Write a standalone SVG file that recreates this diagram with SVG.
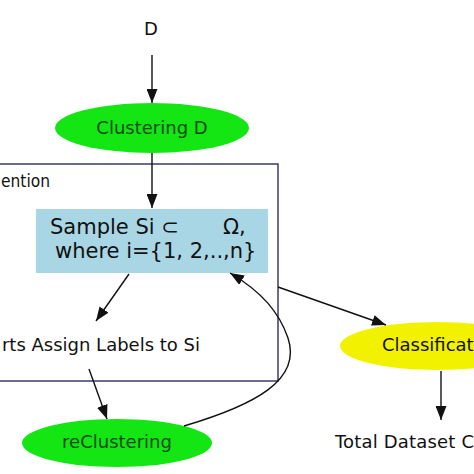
<svg xmlns="http://www.w3.org/2000/svg" width="474" height="474" viewBox="0 0 474 474">
<style>
text{font-family:"DejaVu Sans","Noto Sans",sans-serif;font-size:18px;fill:#111}
.big{font-size:21px}
.edge{fill:none;stroke:#111;stroke-width:1.4}
.green{fill:#14e614}
.gtext{fill:#0c4a0c}
</style>
<defs>
<marker id="ah" viewBox="0 0 14 11" refX="14" refY="5.5" markerWidth="14" markerHeight="11" markerUnits="userSpaceOnUse" orient="auto">
<path d="M0,0 L14,5.5 L0,11 Z" fill="#111"/>
</marker>
</defs>
<rect width="474" height="474" fill="#fff"/>
<g id="cluster">
<rect x="-20" y="164" width="298" height="217" fill="none" stroke="#3b3b6b" stroke-width="1.5"/>
<text x="1" y="187" textLength="49" lengthAdjust="spacingAndGlyphs">ention</text>
</g>
<g id="node-D"><text x="151" y="35" text-anchor="middle">D</text></g>
<g id="node-clustering">
<ellipse class="green" cx="152" cy="128" rx="97" ry="25"/>
<text class="gtext" x="152" y="134" text-anchor="middle">Clustering D</text>
</g>
<g id="node-sample">
<rect x="36" y="209" width="232" height="64" fill="#a9d6e4"/>
<text class="big" x="50" y="234">Sample Si ⊂</text>
<text class="big" x="223" y="234">Ω,</text>
<text class="big" x="55" y="258">where i={1, 2,..,n}</text>
</g>
<g id="node-experts"><text x="200" y="351" text-anchor="end">rts Assign Labels to Si</text></g>
<g id="node-reclustering">
<ellipse class="green" cx="117" cy="443" rx="95" ry="24"/>
<text class="gtext" x="117" y="448" text-anchor="middle">reClustering</text>
</g>
<g id="node-classification">
<ellipse cx="437" cy="346" rx="97" ry="24" fill="#f2f200"/>
<text x="382" y="351">Classificat</text>
</g>
<g id="node-total"><text x="335" y="448" textLength="139">Total Dataset C</text></g>
<g id="edges">
<path class="edge" d="M152,55 L152,103" marker-end="url(#ah)"/>
<path class="edge" d="M152,153 L152,208" marker-end="url(#ah)"/>
<path class="edge" d="M129,274 L96,321" marker-end="url(#ah)"/>
<path class="edge" d="M89,369 L107,419" marker-end="url(#ah)"/>
<path class="edge" d="M184,426 C255,405 302,380 288,338 C279,312 262,292 230,273" marker-end="url(#ah)"/>
<path class="edge" d="M278,287 L386,325" marker-end="url(#ah)"/>
<path class="edge" d="M441,371 L441,420" marker-end="url(#ah)"/>
</g>
</svg>
